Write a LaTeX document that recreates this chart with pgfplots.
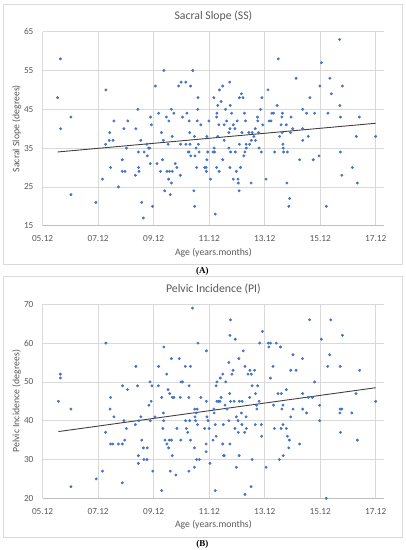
\documentclass[border=0pt]{standalone}
\usepackage{fontspec}
\setmainfont{Carlito}
\newfontfamily\serifb{Liberation Serif}
\usepackage{pgfplots}
\pgfplotsset{compat=1.18}
\definecolor{ptblue}{HTML}{4472C4}
\definecolor{txtgray}{HTML}{595959}
\definecolor{gridgray}{HTML}{D9D9D9}
\definecolor{axgray}{HTML}{BFBFBF}
\definecolor{trend}{HTML}{404040}
\pgfplotsset{
  excel/.style={
    scale only axis, width=341.7bp, height=194bp,
    xmin=5.12, xmax=17.43,
    xtick={5.12,7.12,9.12,11.12,13.12,15.12,17.12},
    xticklabels={05.12,07.12,09.12,11.12,13.12,15.12,17.12},
    grid=major, major grid style={draw=gridgray, line width=0.6bp},
    axis x line*=bottom, axis y line*=left,
    x axis line style={draw=axgray,-,line width=0.7bp},
    y axis line style={draw=none},
    tick style={draw=none},
    tick label style={font=\fontsize{9.3}{11}\selectfont, text=txtgray},
    /pgf/number format/assume math mode=true,
    yticklabel style={anchor=east, inner sep=0pt, xshift=-9bp},
    xticklabel style={anchor=north, inner sep=0pt, yshift=-10bp},
    clip=false,
  },
  dots/.style={only marks, mark=*, mark size=1.25bp, mark options={draw=ptblue, fill=ptblue}},
  trendline/.style={no marks, draw=trend, line width=0.9bp},
}
\begin{document}
\begin{tikzpicture}
\path[use as bounding box] (0bp,0bp) rectangle (406bp,-550bp);
\draw[gridgray, line width=0.75bp] (3bp,-4bp) rectangle (402.3bp,-264.3bp);
\draw[gridgray, line width=0.75bp] (3bp,-276.7bp) rectangle (402.3bp,-537.7bp);
% ---------------- Panel A ----------------
\begin{axis}[excel, at={(42.6bp,-225.7bp)}, anchor=south west,
  ymin=15, ymax=65, ytick={15,25,35,45,55,65}]
\addplot[dots] coordinates {
(5.76,58) (5.66,48) (5.77,40) (6.14,43) (7.40,50) (7.69,42) (8.05,40) (8.19,42)
(8.48,40) (8.55,45) (9.01,43) (9.04,41) (9.18,51) (9.30,44) (9.49,55) (9.58,43)
(9.67,42) (9.76,45) (9.85,44) (10.02,51) (10.11,52) (10.16,43) (10.28,52) (10.32,44)
(10.40,42) (10.45,51) (10.53,55) (10.69,42) (10.71,45) (10.72,48) (10.82,41) (11.11,42)
(11.29,48) (11.39,43) (11.40,44) (11.43,46) (11.47,41) (11.49,50) (11.55,47) (11.61,51)
(11.66,41) (11.71,45) (11.75,42) (11.86,52) (11.87,40) (11.88,46) (11.93,44) (11.99,41)
(12.05,40) (12.13,42) (12.21,48) (12.28,49) (12.34,48) (12.39,44) (12.43,42) (12.78,40)
(12.86,43) (12.87,42) (12.97,45) (13.02,48) (13.05,41) (13.24,50) (13.28,42) (13.35,42)
(13.38,44) (13.44,44) (13.57,46) (13.61,58) (13.71,41) (13.74,43) (13.76,44) (13.90,41)
(14.07,43) (14.13,40) (14.25,53) (14.49,45) (14.49,40) (14.63,44) (14.75,48) (14.92,44)
(15.11,51) (15.16,57) (15.40,44) (15.47,53) (15.52,49) (15.82,63) (15.83,46) (15.85,43)
(15.92,51) (16.53,43)
(6.14,23) (7.04,21) (7.28,27) (7.39,36) (7.54,39) (7.52,37) (7.57,30) (7.66,37)
(7.85,25) (7.99,32) (7.99,29) (8.09,29) (8.14,35) (8.46,28) (8.57,34) (8.58,30)
(8.59,29) (8.66,37) (8.69,21) (8.75,17) (8.78,34) (8.88,36) (8.89,33) (8.94,35)
(8.98,35) (9.00,31) (9.08,20) (9.24,31) (9.37,29) (9.40,39) (9.44,32) (9.47,37)
(9.52,24) (9.60,29) (9.64,36) (9.66,27) (9.69,29) (9.72,23) (9.76,26) (9.79,29)
(9.79,38) (9.90,31) (9.96,30) (10.08,28) (10.09,36) (10.28,36) (10.36,34) (10.40,34)
(10.42,39) (10.43,36) (10.46,33) (10.57,24) (10.60,20) (10.59,38) (10.61,33) (10.65,35)
(10.67,30) (10.73,36) (10.76,34) (10.96,30) (11.01,30) (11.02,29) (11.04,32) (11.04,38)
(11.07,34) (11.17,27) (11.26,34) (11.30,35) (11.32,34) (11.34,18) (11.39,30) (11.43,38)
(11.48,29) (11.61,32) (11.66,37) (11.83,39) (11.83,35) (11.87,30) (11.89,34) (11.99,27)
(12.06,34) (12.10,29) (12.16,27) (12.17,26) (12.20,24) (12.21,36) (12.25,30) (12.30,39)
(12.37,33) (12.41,34) (12.45,36) (12.46,35) (12.55,39) (12.58,36) (12.63,26) (12.64,37)
(12.67,39) (12.73,38) (12.79,37) (12.90,39) (12.92,35) (13.00,34) (13.17,27) (13.48,34)
(13.66,38) (13.75,39) (13.78,36) (13.79,35) (13.80,34) (13.92,26) (13.94,34) (13.99,20)
(14.02,22) (14.05,39) (14.38,32) (14.49,37) (14.69,38) (14.87,32) (15.08,33) (15.34,20)
(15.85,34) (15.90,28) (16.28,30) (16.42,38) (16.46,26) (17.12,38)
};
\addplot[trendline] coordinates {(5.66,34.0) (17.12,41.4)};
\end{axis}
% ---------------- Panel B ----------------
\begin{axis}[excel, at={(42.6bp,-498.3bp)}, anchor=south west,
  ymin=20, ymax=70, ytick={20,30,40,50,60,70}]
\addplot[dots] coordinates {
(5.69,45) (5.76,52) (5.76,51) (6.14,43) (7.40,60) (7.55,43) (7.57,46) (8.00,49)
(8.18,48) (8.48,54) (8.54,49) (8.95,44) (8.99,50) (9.03,45) (9.06,49) (9.29,49)
(9.30,54) (9.41,46) (9.47,42) (9.49,59) (9.59,52) (9.64,48) (9.70,47) (9.76,56)
(9.79,46) (9.85,46) (10.04,56) (10.08,46) (10.11,50) (10.16,50) (10.26,54) (10.39,46)
(10.40,49) (10.45,54) (10.52,69) (10.60,43) (10.65,42) (10.69,43) (10.72,60) (10.82,46)
(11.02,58) (11.02,45) (11.29,43) (11.30,42) (11.37,49) (11.40,50) (11.40,45) (11.46,45)
(11.51,45) (11.52,51) (11.55,46) (11.61,52) (11.69,44) (11.72,50) (11.76,43) (11.83,55)
(11.86,47) (11.87,62) (11.89,45) (11.89,66) (11.94,52) (11.98,53) (12.02,45) (12.06,61)
(12.19,56) (12.21,45) (12.28,42) (12.31,45) (12.35,58) (12.41,54) (12.52,52) (12.58,46)
(12.59,53) (12.64,52) (12.67,49) (12.76,53) (12.79,47) (12.83,44) (12.84,43) (12.87,49)
(12.92,45) (12.94,60) (13.04,63) (13.25,60) (13.27,59) (13.33,60) (13.33,51) (13.42,54)
(13.44,44) (13.54,60) (13.60,47) (13.69,59) (13.72,47) (13.74,43) (13.78,44) (13.90,48)
(14.06,53) (14.14,57) (14.14,43) (14.25,53) (14.48,56) (14.49,47) (14.49,43) (14.63,42)
(14.69,46) (14.74,66) (14.84,46) (14.92,50) (15.10,44) (15.16,61) (15.39,54) (15.46,57)
(15.50,66) (15.84,43) (15.84,54) (15.90,43) (15.92,62) (15.83,42) (16.26,42) (16.41,47)
(16.54,53) (17.12,45)
(6.14,23) (7.05,25) (7.28,27) (7.39,37) (7.57,34) (7.65,34) (7.69,41) (7.85,34)
(7.99,34) (7.99,24) (8.05,40) (8.08,35) (8.14,38) (8.46,39) (8.57,31) (8.57,29)
(8.59,40) (8.66,41) (8.69,35) (8.75,33) (8.77,30) (8.88,30) (8.89,33) (9.00,40)
(9.09,27) (9.17,41) (9.41,22) (9.45,38) (9.48,40) (9.53,35) (9.60,34) (9.66,33)
(9.68,35) (9.72,27) (9.76,35) (9.79,31) (9.92,26) (9.96,38) (10.10,35) (10.27,40)
(10.30,38) (10.35,37) (10.39,27) (10.42,40) (10.45,35) (10.59,33) (10.59,28) (10.61,41)
(10.63,40) (10.67,30) (10.70,39) (10.77,30) (10.96,38) (11.01,32) (11.01,34) (11.04,41)
(11.08,40) (11.12,38) (11.15,29) (11.26,35) (11.34,39) (11.34,22) (11.37,36) (11.61,34)
(11.63,39) (11.64,31) (11.66,31) (11.83,40) (11.87,34) (12.05,38) (12.10,41) (12.10,28)
(12.16,40) (12.17,37) (12.20,31) (12.30,39) (12.40,37) (12.41,21) (12.45,41) (12.46,38)
(12.63,23) (12.67,30) (12.78,39) (13.00,39) (13.01,36) (13.17,28) (13.47,38) (13.65,30)
(13.71,38) (13.78,39) (13.79,31) (13.90,38) (13.94,36) (13.99,33) (14.01,35) (14.06,41)
(14.38,34) (15.10,40) (15.34,20) (15.85,37) (16.46,35)
};
\addplot[trendline] coordinates {(5.69,37.2) (17.12,48.5)};
\end{axis}
% ---------------- Texts ----------------
\node[font=\fontsize{11.8}{14}\selectfont, text=txtgray] at (213.4bp,-15.7bp) {Sacral Slope (SS)};
\node[font=\fontsize{9.8}{12}\selectfont, text=txtgray] at (213.4bp,-252.7bp) {Age (years.months)};
\node[rotate=90, font=\fontsize{9.8}{12}\selectfont, text=txtgray] at (16.7bp,-128.7bp) {Sacral Slope (degrees)};
\node[font=\serifb\bfseries\fontsize{9}{11}\selectfont] at (202.3bp,-271.7bp) {(A)};
\node[font=\fontsize{11.8}{14}\selectfont, text=txtgray] at (213.4bp,-289.3bp) {Pelvic Incidence (PI)};
\node[font=\fontsize{9.8}{12}\selectfont, text=txtgray] at (213.4bp,-525bp) {Age (years.months)};
\node[rotate=90, font=\fontsize{9.8}{12}\selectfont, text=txtgray] at (16.7bp,-401.3bp) {Pelvic Incidence (degrees)};
\node[font=\serifb\bfseries\fontsize{9}{11}\selectfont] at (202.3bp,-544.3bp) {(B)};
\end{tikzpicture}
\end{document}
